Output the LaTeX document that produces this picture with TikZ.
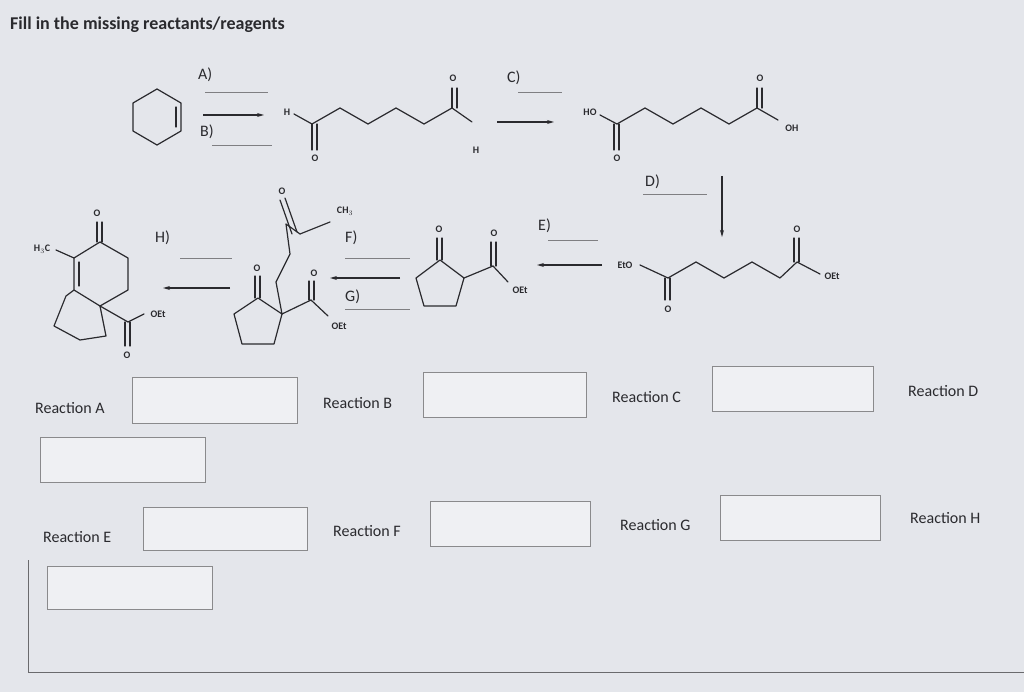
\documentclass[tikz,border=0pt]{standalone}
\usepackage{fontspec}
\setmainfont{Carlito}
\usetikzlibrary{arrows.meta}
\definecolor{bg}{HTML}{E4E6EB}
\definecolor{ink}{HTML}{2A2A2E}
\tikzset{
 bond/.style={draw=ink,line width=1.2pt,line cap=round,line join=round},
 lab/.style={font=\fontsize{16}{16}\selectfont,text=ink,anchor=west,inner sep=0},
 atom/.style={font=\fontsize{10}{10}\selectfont\bfseries,text=ink,inner sep=1pt},
 blank/.style={draw=ink!60,line width=0.9pt},
 ansbox/.style={draw=ink!55,line width=0.8pt,fill=bg!60!white},
 rarr/.style={draw=ink,line width=1.2pt,-{Stealth[length=7pt,width=4pt]}}
}
\begin{document}
\begin{tikzpicture}[x=1pt,y=-1pt]
\fill[bg] (0,0) rectangle (1024,692);
\useasboundingbox (0,0) rectangle (1024,692);
\draw[ink!70,line width=0.8pt] (28,560) -- (28,672) -- (1024,672);
\node[lab,font=\fontsize{18}{18}\selectfont\bfseries] (title) at (10,25) {Fill in the missing reactants/reagents};
% cyclohexene
\draw[bond] (157,89)--(181,103)--(181,131)--(157,145)--(133,131)--(133,103)--cycle;
\draw[bond] (176,107)--(176,127);
% arrow 1
\draw[rarr] (203,115)--(264,115);
\node[lab] (A) at (198,75) {A)}; \draw[blank] (205,92)--(268,92);
\node[lab] (B) at (200,132) {B)}; \draw[blank] (212,145)--(272,145);
% hexanedial
\node[atom] (h1) at (287,112) {H};
\draw[bond] (294,114)--(312,124)--(340,108)--(368,124)--(396,108)--(424,124)--(452,108);
\draw[bond] (312,124)--(312,150) (317,124)--(317,150);
\node[atom] (o1) at (315,158) {O};
\draw[bond] (452,108)--(452,88) (457,108)--(457,88);
\node[atom] (o2) at (453,78) {O};
\draw[bond] (452,108)--(472,122);
\node[atom] (h2) at (476,150) {H};
% arrow 2
\draw[rarr] (497,122)--(554,122);
\node[lab] (C) at (507,78) {C)}; \draw[blank] (518,92)--(562,92);
% adipic acid
\node[atom] (ho) at (590,112) {HO};
\draw[bond] (600,115)--(617,124)--(645,108)--(673,124)--(701,108)--(729,124)--(757,108)--(778,120);
\draw[bond] (614,124)--(614,150) (619,124)--(619,150);
\node[atom] (o3) at (617,158) {O};
\draw[bond] (757,108)--(757,88) (762,108)--(762,88);
\node[atom] (o4) at (760,78) {O};
\node[atom] (oh) at (792,128) {OH};
% D
\node[lab] (D) at (645,182) {D)}; \draw[blank] (643,194)--(707,194);
\draw[rarr] (722,176)--(722,237);
% diethyl adipate
\node[atom] (eto) at (625,265) {EtO};
\draw[bond] (640,265)--(668,278)--(696,262)--(724,278)--(752,262)--(780,278)--(797,262)--(820,274);
\draw[bond] (665,278)--(665,300) (670,278)--(670,300);
\node[atom] (o5) at (668,309) {O};
\draw[bond] (794,262)--(794,238) (799,262)--(799,238);
\node[atom] (o6) at (797,229) {O};
\node[atom] (oet1) at (832,276) {OEt};
% E
\draw[rarr] (602,265)--(537,265);
\node[lab] (E) at (538,226) {E)}; \draw[blank] (548,240)--(598,240);
% keto ester
\draw[bond] (440,260)--(464,278)--(456,306)--(424,306)--(416,278)--cycle;
\draw[bond] (437,260)--(437,238) (442,260)--(442,238);
\node[atom] (o7) at (439,229) {O};
\draw[bond] (464,278)--(493,266);
\draw[bond] (491,266)--(491,242) (496,266)--(496,242);
\node[atom] (o8) at (494,233) {O};
\draw[bond] (493,266)--(508,282);
\node[atom] (oet2) at (520,290) {OEt};
% F G
\node[lab] (F) at (345,238) {F)}; \draw[blank] (345,258)--(410,258);
\draw[rarr] (400,278)--(330,278);
\node[lab] (G) at (345,297) {G)}; \draw[blank] (345,309)--(410,309);
% Michael adduct
\draw[bond] (258,298)--(282,314)--(274,344)--(242,344)--(234,314)--cycle;
\draw[bond] (255,298)--(255,276) (260,298)--(260,276);
\node[atom] (o9) at (257,268) {O};
\draw[bond] (282,314)--(311,300);
\draw[bond] (309,300)--(309,281) (314,300)--(314,281);
\node[atom] (o10) at (314,273) {O};
\draw[bond] (311,300)--(328,316);
\node[atom] (oet3) at (339,326) {OEt};
\draw[bond] (282,314)--(276,282)--(290,254)--(286,224)--(300,234);
\draw[bond] (292,234)--(280,200) (297,232)--(285,198);
\node[atom] (o11) at (282,191) {O};
\draw[bond] (300,234)--(330,222);
\node[atom] (ch3) at (345,211) {CH$_3$};
% H
\node[lab] (H) at (155,238) {H)}; \draw[blank] (180,258)--(232,258);
\draw[rarr] (230,288)--(163,288);
% bicyclic
\draw[bond] (100,242)--(128,258)--(128,290)--(100,306)--(74,290)--(74,258)--cycle;
\draw[bond] (79,262)--(79,286);
\draw[bond] (97,242)--(97,222) (102,242)--(102,222);
\node[atom] (o12) at (97,213) {O};
\draw[bond] (74,258)--(56,250);
\node[atom] (h3c) at (42,249) {H$_3$C};
\draw[bond] (100,306)--(106,336)--(80,340)--(54,326)--(66,296)--(74,290);
\draw[bond] (100,306)--(128,322)--(144,314);
\draw[bond] (125,322)--(125,346) (130,322)--(130,346);
\node[atom] (o13) at (127,355) {O};
\node[atom] (oet4) at (158,314) {OEt};
% answer area
\node[lab] (rA) at (35,408) {Reaction A};
\draw[ansbox] (132,377) rectangle (297,423);
\draw[ansbox] (40,437) rectangle (205,482);
\node[lab] (rB) at (323,403) {Reaction B};
\draw[ansbox] (423,372) rectangle (586,417);
\node[lab] (rC) at (612,397) {Reaction C};
\draw[ansbox] (712,366) rectangle (873,411);
\node[lab] (rD) at (908,391) {Reaction D};
\node[lab] (rE) at (43,537) {Reaction E};
\draw[ansbox] (143,507) rectangle (307,550);
\draw[ansbox] (47,566) rectangle (212,609);
\node[lab] (rF) at (333,531) {Reaction F};
\draw[ansbox] (430,501) rectangle (590,546);
\node[lab] (rG) at (620,525) {Reaction G};
\draw[ansbox] (720,495) rectangle (880,540);
\node[lab] (rH) at (910,518) {Reaction H};
\end{tikzpicture}
\end{document}
